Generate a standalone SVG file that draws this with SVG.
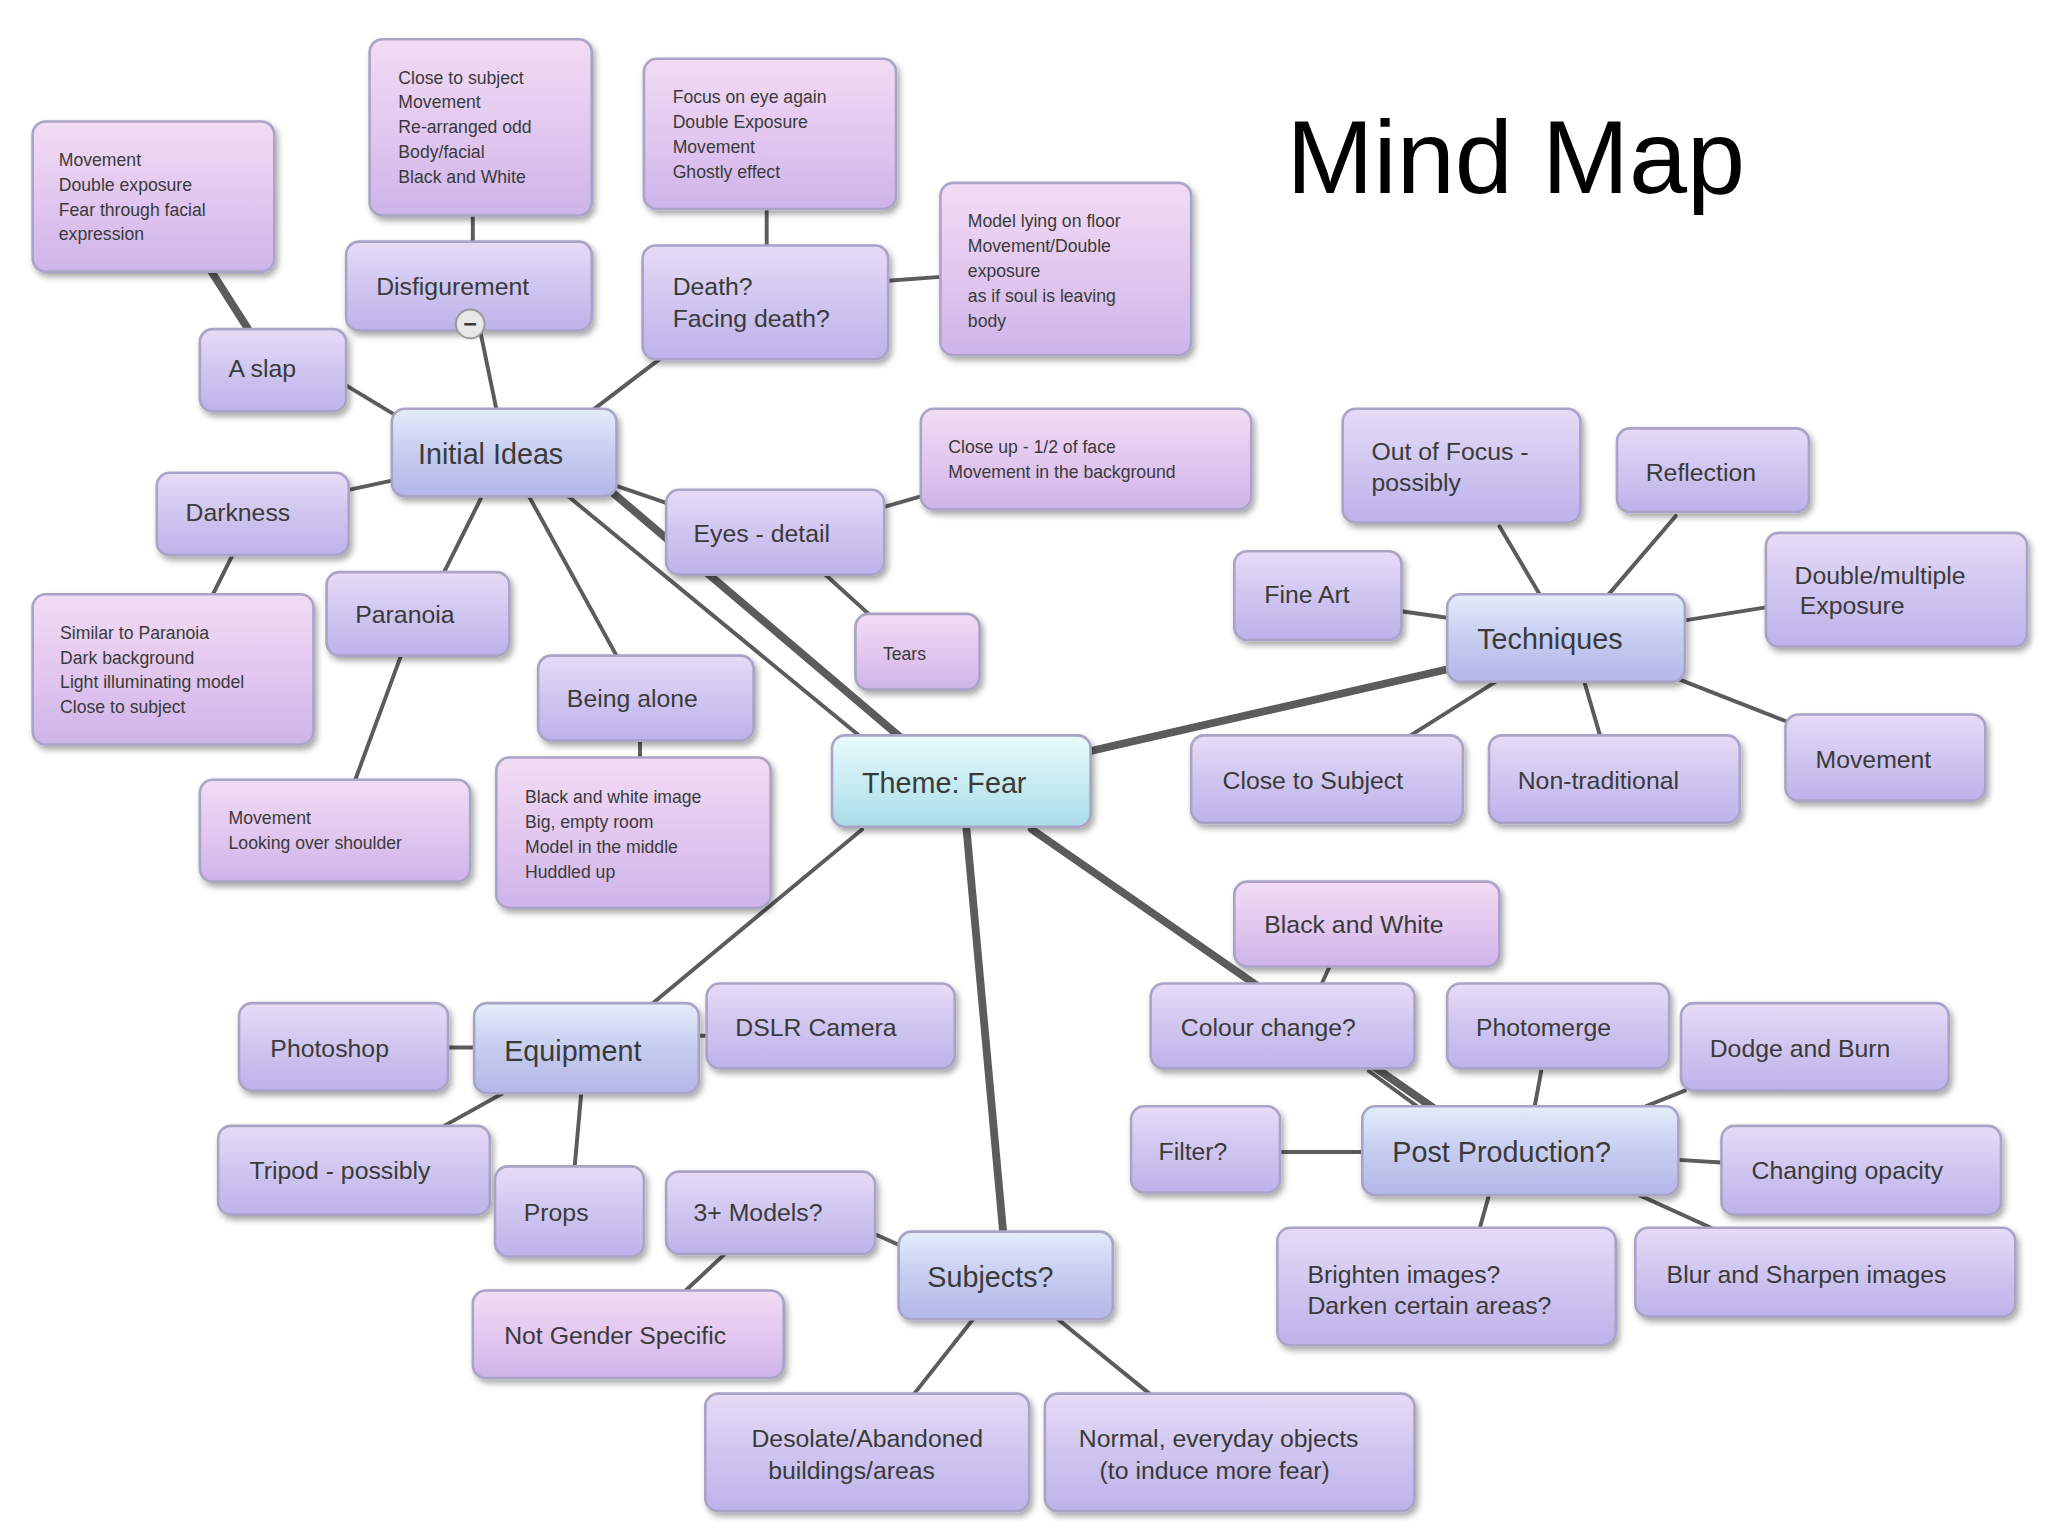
<svg xmlns="http://www.w3.org/2000/svg" width="2048" height="1536" viewBox="0 0 2048 1536">
<defs>
<linearGradient id="gL" x1="0" y1="0" x2="0" y2="1"><stop offset="0" stop-color="#e6dcf6"/><stop offset="0.5" stop-color="#cfc6f0"/><stop offset="1" stop-color="#bdb2ea"/></linearGradient>
<linearGradient id="gP" x1="0" y1="0" x2="0" y2="1"><stop offset="0" stop-color="#f2dcf4"/><stop offset="0.6" stop-color="#dfc4ee"/><stop offset="1" stop-color="#cdb4ea"/></linearGradient>
<linearGradient id="gB" x1="0" y1="0" x2="0" y2="1"><stop offset="0" stop-color="#e4ecfa"/><stop offset="0.5" stop-color="#c6cdf0"/><stop offset="1" stop-color="#b4b6e8"/></linearGradient>
<linearGradient id="gC" x1="0" y1="0" x2="0" y2="1"><stop offset="0" stop-color="#eafafc"/><stop offset="0.5" stop-color="#c8ecf2"/><stop offset="1" stop-color="#aadce8"/></linearGradient>
<filter id="sh" x="-10%" y="-10%" width="125%" height="135%"><feDropShadow dx="2" dy="3" stdDeviation="2.5" flood-color="#000" flood-opacity="0.35"/></filter>
</defs>
<style>
rect{stroke:#a9a3c6;stroke-width:2;filter:url(#sh)}
.l{fill:url(#gL)}.p{fill:url(#gP)}.b{fill:url(#gB)}.c{fill:url(#gC)}
text{font-family:"Liberation Sans",Arial,sans-serif;fill:#3a3a3a}
.t{font-size:19px}.s{font-size:13.5px}.m{font-size:22px}
#edges line{stroke:#5c5c5c;stroke-width:3;stroke-linecap:round}
#edges .k{stroke-width:6}
</style>
<rect x="0" y="0" width="2048" height="1536" fill="#fff" style="filter:none;stroke:none"/>
<g transform="scale(1.30612)">
<text x="985" y="148" style="font-size:80px;fill:#000">Mind Map</text>
<g id="edges">
<line x1="160" y1="205" x2="190" y2="252" class="k"/>
<line x1="265" y1="295" x2="303" y2="318"/>
<line x1="362" y1="165" x2="362" y2="185"/>
<line x1="368" y1="255" x2="380" y2="313"/>
<line x1="587" y1="160" x2="587" y2="188"/>
<line x1="680" y1="215" x2="720" y2="212"/>
<line x1="505" y1="275" x2="455" y2="313"/>
<line x1="267" y1="375" x2="300" y2="368"/>
<line x1="178" y1="425" x2="163" y2="455"/>
<line x1="472" y1="372" x2="510" y2="385"/>
<line x1="677" y1="388" x2="705" y2="380"/>
<line x1="632" y1="440" x2="665" y2="470"/>
<line x1="340" y1="438" x2="368" y2="382"/>
<line x1="307" y1="502" x2="272" y2="597"/>
<line x1="472" y1="502" x2="405" y2="380"/>
<line x1="490" y1="567" x2="490" y2="580"/>
<line x1="435" y1="380" x2="660" y2="565"/>
<line x1="470" y1="378" x2="690" y2="565" class="k"/>
<line x1="835" y1="575" x2="1110" y2="512" class="k"/>
<line x1="1148" y1="403" x2="1180" y2="457"/>
<line x1="1283" y1="395" x2="1230" y2="457"/>
<line x1="1073" y1="468" x2="1108" y2="473"/>
<line x1="1290" y1="475" x2="1352" y2="465"/>
<line x1="1080" y1="563" x2="1145" y2="522"/>
<line x1="1213" y1="522" x2="1225" y2="563"/>
<line x1="1285" y1="520" x2="1367" y2="552"/>
<line x1="660" y1="635" x2="500" y2="768"/>
<line x1="740" y1="635" x2="768" y2="943" class="k"/>
<line x1="790" y1="635" x2="1100" y2="850" class="k"/>
<line x1="1018" y1="740" x2="1012" y2="753"/>
<line x1="1048" y1="820" x2="1085" y2="847"/>
<line x1="1180" y1="820" x2="1175" y2="847"/>
<line x1="1290" y1="835" x2="1260" y2="847"/>
<line x1="980" y1="882" x2="1043" y2="882"/>
<line x1="1285" y1="888" x2="1318" y2="890"/>
<line x1="1140" y1="915" x2="1133" y2="940"/>
<line x1="1255" y1="915" x2="1310" y2="940"/>
<line x1="343" y1="802" x2="363" y2="802"/>
<line x1="535" y1="793" x2="541" y2="793"/>
<line x1="385" y1="837" x2="340" y2="862"/>
<line x1="445" y1="837" x2="440" y2="893"/>
<line x1="670" y1="945" x2="688" y2="953"/>
<line x1="555" y1="960" x2="525" y2="988"/>
<line x1="745" y1="1010" x2="700" y2="1067"/>
<line x1="810" y1="1010" x2="880" y2="1067"/>
</g>
<g id="n1"><rect class="p" x="25" y="93" width="185" height="115" rx="10"/><text class="s" x="45" y="127">Movement</text><text class="s" x="45" y="146">Double exposure</text><text class="s" x="45" y="165">Fear through facial</text><text class="s" x="45" y="184">expression</text></g>
<g id="n2"><rect class="p" x="283" y="30" width="170" height="135" rx="10"/><text class="s" x="305" y="64">Close to subject</text><text class="s" x="305" y="83">Movement</text><text class="s" x="305" y="102">Re-arranged odd</text><text class="s" x="305" y="121">Body/facial</text><text class="s" x="305" y="140">Black and White</text></g>
<g id="n3"><rect class="p" x="493" y="45" width="193" height="115" rx="10"/><text class="s" x="515" y="79">Focus on eye again</text><text class="s" x="515" y="98">Double Exposure</text><text class="s" x="515" y="117">Movement</text><text class="s" x="515" y="136">Ghostly effect</text></g>
<g id="n4"><rect class="p" x="720" y="140" width="192" height="132" rx="10"/><text class="s" x="741" y="174">Model lying on floor</text><text class="s" x="741" y="193">Movement/Double</text><text class="s" x="741" y="212">exposure</text><text class="s" x="741" y="231">as if soul is leaving</text><text class="s" x="741" y="250">body</text></g>
<g id="n5"><rect class="p" x="705" y="313" width="253" height="77" rx="10"/><text class="s" x="726" y="347">Close up - 1/2 of face</text><text class="s" x="726" y="366">Movement in the background</text></g>
<g id="n6"><rect class="p" x="655" y="470" width="95" height="58" rx="10"/><text class="s" x="676" y="505">Tears</text></g>
<g id="n7"><rect class="p" x="25" y="455" width="215" height="115" rx="10"/><text class="s" x="46" y="489">Similar to Paranoia</text><text class="s" x="46" y="508">Dark background</text><text class="s" x="46" y="527">Light illuminating model</text><text class="s" x="46" y="546">Close to subject</text></g>
<g id="n8"><rect class="p" x="153" y="597" width="207" height="78" rx="10"/><text class="s" x="175" y="631">Movement</text><text class="s" x="175" y="650">Looking over shoulder</text></g>
<g id="n9"><rect class="p" x="380" y="580" width="210" height="115" rx="10"/><text class="s" x="402" y="615">Black and white image</text><text class="s" x="402" y="634">Big, empty room</text><text class="s" x="402" y="653">Model in the middle</text><text class="s" x="402" y="672">Huddled up</text></g>
<g id="disfig"><rect class="l" x="265" y="185" width="188" height="68" rx="10"/><text class="t" x="288" y="226">Disfigurement</text><circle cx="360" cy="248" r="11" fill="#e8e8e8" stroke="#999" stroke-width="1.5"/><text x="360" y="254" text-anchor="middle" style="font-size:18px;font-weight:bold">−</text></g>
<g id="death"><rect class="l" x="492" y="188" width="188" height="87" rx="10"/><text class="t" x="515" y="226">Death?</text><text class="t" x="515" y="250">Facing death?</text></g>
<g id="slap"><rect class="l" x="153" y="252" width="112" height="63" rx="10"/><text class="t" x="175" y="289">A slap</text></g>
<g id="initial"><rect class="b" x="300" y="313" width="172" height="67" rx="10"/><text class="m" x="320" y="355">Initial Ideas</text></g>
<g id="dark"><rect class="l" x="120" y="362" width="147" height="63" rx="10"/><text class="t" x="142" y="399">Darkness</text></g>
<g id="eyes"><rect class="l" x="510" y="375" width="167" height="65" rx="10"/><text class="t" x="531" y="415">Eyes - detail</text></g>
<g id="paranoia"><rect class="l" x="250" y="438" width="140" height="64" rx="10"/><text class="t" x="272" y="477">Paranoia</text></g>
<g id="alone"><rect class="l" x="412" y="502" width="165" height="65" rx="10"/><text class="t" x="434" y="541">Being alone</text></g>
<g id="theme"><rect class="c" x="637" y="563" width="198" height="70" rx="10"/><text class="m" x="660" y="607">Theme: Fear</text></g>
<g id="oof"><rect class="l" x="1028" y="313" width="182" height="87" rx="10"/><text class="t" x="1050" y="352">Out of Focus -</text><text class="t" x="1050" y="376">possibly</text></g>
<g id="refl"><rect class="l" x="1238" y="328" width="147" height="64" rx="10"/><text class="t" x="1260" y="368">Reflection</text></g>
<g id="fineart"><rect class="l" x="945" y="422" width="128" height="68" rx="10"/><text class="t" x="968" y="462">Fine Art</text></g>
<g id="tech"><rect class="b" x="1108" y="455" width="182" height="67" rx="10"/><text class="m" x="1131" y="497">Techniques</text></g>
<g id="dbl"><rect class="l" x="1352" y="408" width="200" height="87" rx="10"/><text class="t" x="1374" y="447">Double/multiple</text><text class="t" x="1378" y="470">Exposure</text></g>
<g id="cts"><rect class="l" x="912" y="563" width="208" height="67" rx="10"/><text class="t" x="936" y="604">Close to Subject</text></g>
<g id="nontrad"><rect class="l" x="1140" y="563" width="192" height="67" rx="10"/><text class="t" x="1162" y="604">Non-traditional</text></g>
<g id="move"><rect class="l" x="1367" y="547" width="153" height="66" rx="10"/><text class="t" x="1390" y="588">Movement</text></g>
<g id="bw"><rect class="p" x="945" y="675" width="203" height="65" rx="10"/><text class="t" x="968" y="714">Black and White</text></g>
<g id="colour"><rect class="l" x="881" y="753" width="202" height="65" rx="10"/><text class="t" x="904" y="793">Colour change?</text></g>
<g id="photomerge"><rect class="l" x="1108" y="753" width="170" height="65" rx="10"/><text class="t" x="1130" y="793">Photomerge</text></g>
<g id="dodge"><rect class="l" x="1287" y="768" width="205" height="67" rx="10"/><text class="t" x="1309" y="809">Dodge and Burn</text></g>
<g id="photoshop"><rect class="l" x="183" y="768" width="160" height="67" rx="10"/><text class="t" x="207" y="809">Photoshop</text></g>
<g id="equip"><rect class="b" x="363" y="768" width="172" height="69" rx="10"/><text class="m" x="386" y="812">Equipment</text></g>
<g id="dslr"><rect class="l" x="541" y="753" width="190" height="65" rx="10"/><text class="t" x="563" y="793">DSLR Camera</text></g>
<g id="filter"><rect class="l" x="866" y="847" width="114" height="66" rx="10"/><text class="t" x="887" y="888">Filter?</text></g>
<g id="post"><rect class="b" x="1043" y="847" width="242" height="68" rx="10"/><text class="m" x="1066" y="890">Post Production?</text></g>
<g id="opacity"><rect class="l" x="1318" y="862" width="214" height="68" rx="10"/><text class="t" x="1341" y="903">Changing opacity</text></g>
<g id="tripod"><rect class="l" x="167" y="862" width="208" height="68" rx="10"/><text class="t" x="191" y="903">Tripod - possibly</text></g>
<g id="props"><rect class="l" x="379" y="893" width="114" height="69" rx="10"/><text class="t" x="401" y="935">Props</text></g>
<g id="models"><rect class="l" x="510" y="897" width="160" height="63" rx="10"/><text class="t" x="531" y="935">3+ Models?</text></g>
<g id="subjects"><rect class="b" x="688" y="943" width="164" height="67" rx="10"/><text class="m" x="710" y="985">Subjects?</text></g>
<g id="brighten"><rect class="l" x="978" y="940" width="259" height="90" rx="10"/><text class="t" x="1001" y="982">Brighten images?</text><text class="t" x="1001" y="1006">Darken certain areas?</text></g>
<g id="blur"><rect class="l" x="1252" y="940" width="291" height="68" rx="10"/><text class="t" x="1276" y="982">Blur and Sharpen images</text></g>
<g id="gender"><rect class="p" x="362" y="988" width="238" height="67" rx="10"/><text class="t" x="386" y="1029">Not Gender Specific</text></g>
<g id="desolate"><rect class="l" x="540" y="1067" width="248" height="90" rx="10"/><text class="t" x="664" y="1108" text-anchor="middle">Desolate/Abandoned</text><text class="t" x="652" y="1132" text-anchor="middle">buildings/areas</text></g>
<g id="normal"><rect class="l" x="800" y="1067" width="283" height="90" rx="10"/><text class="t" x="933" y="1108" text-anchor="middle">Normal, everyday objects</text><text class="t" x="930" y="1132" text-anchor="middle">(to induce more fear)</text></g>
</g>
</svg>
